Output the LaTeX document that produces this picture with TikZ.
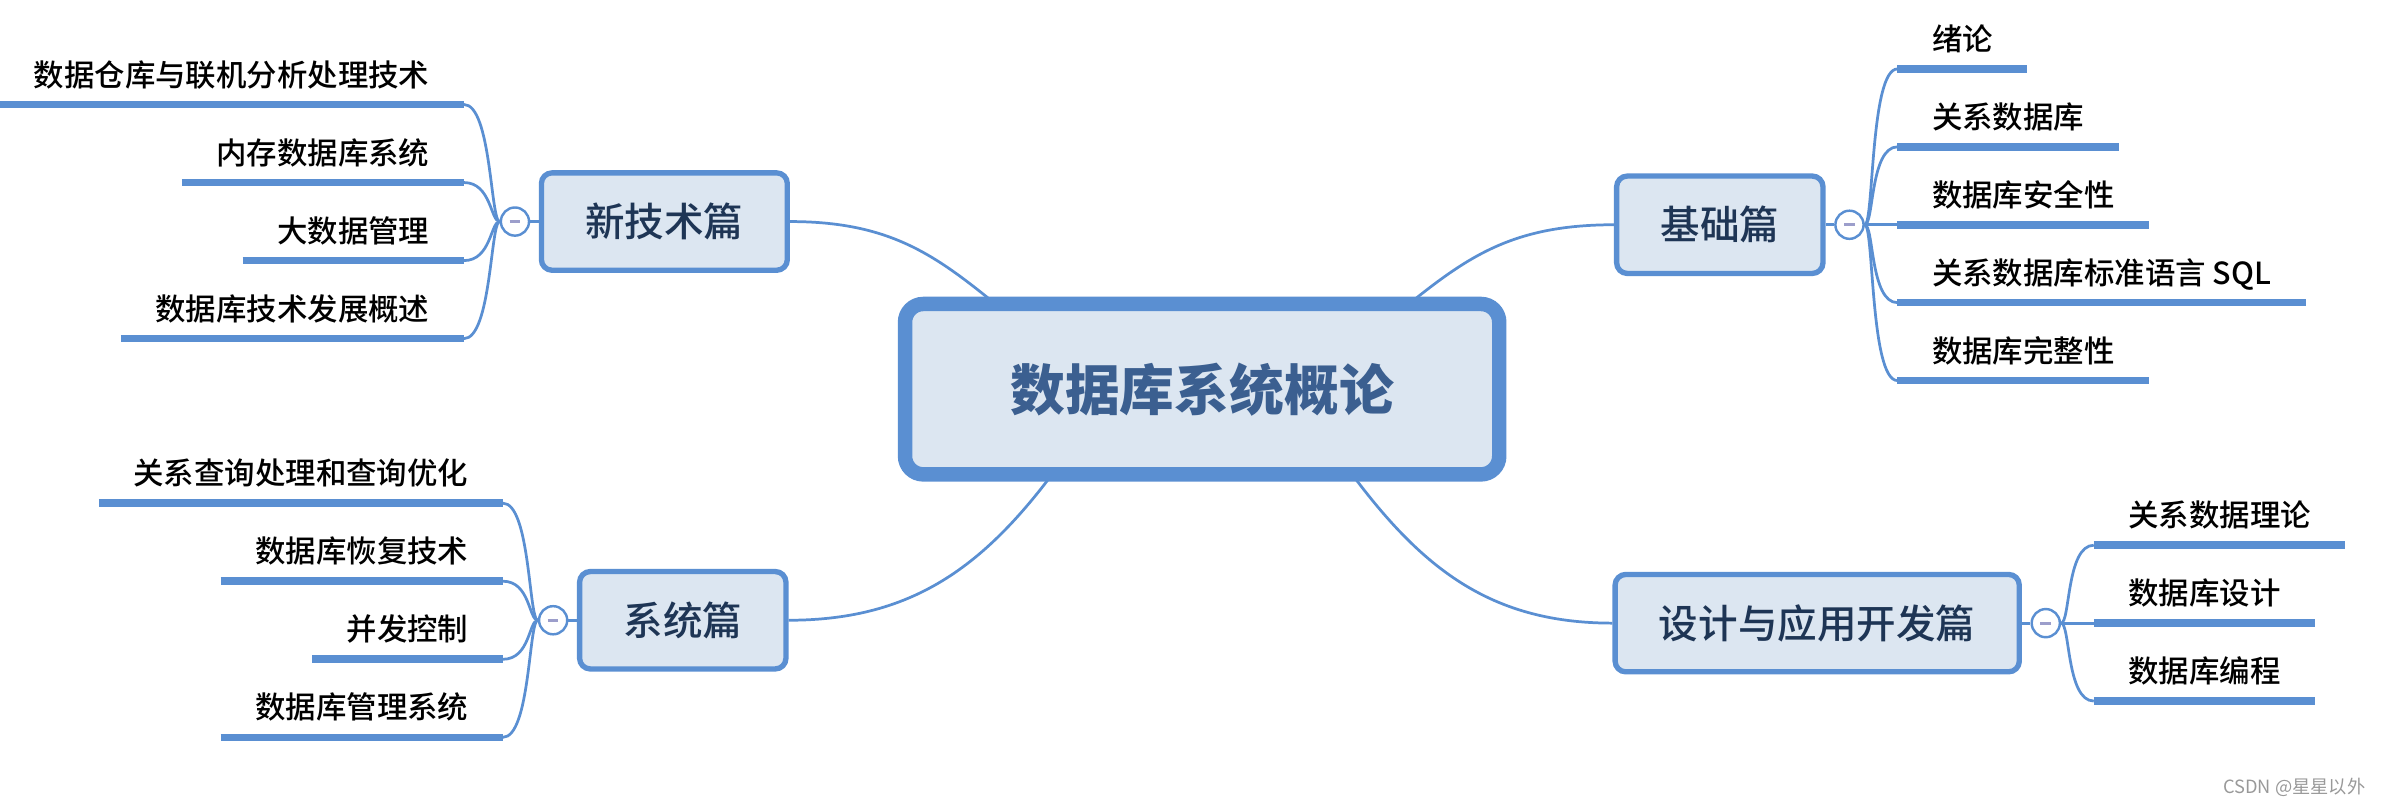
\documentclass[tikz,border=0pt]{standalone}
\usepackage{fontspec}
\setmainfont{Noto Sans CJK SC}
\newfontfamily\mapmedium{Noto Sans CJK SC Medium}
\usetikzlibrary{calc, positioning, backgrounds}

\definecolor{mapblue}{HTML}{5A8FD2}
\definecolor{mapfill}{HTML}{DCE6F1}
\definecolor{titleblue}{HTML}{3B5F90}
\definecolor{branchtext}{HTML}{1E3555}
\definecolor{minusgray}{HTML}{9C9ECB}

\tikzset{
    topic/.style = {draw = mapblue, fill = mapfill, line width = 9.5pt, rounded corners = 12pt, minimum width = 390.5pt, minimum height = 112pt, text = titleblue, font = \fontsize{36}{40}\selectfont\bfseries},
    branch/.style = {draw = mapblue, fill = mapfill, line width = 3.5pt, rounded corners = 7pt, minimum height = 64pt, inner xsep = 28.8pt, text = branchtext, font = \mapmedium\fontsize{26}{30}\selectfont},
    fold/.style = {circle, draw = mapblue, fill = white, line width = 1.6pt, minimum size = 18.5pt, inner sep = 0pt,
        path picture = {\draw[minusgray, line width = 1.8pt] ([xshift = -3.5pt]path picture bounding box.center) -- ([xshift = 3.5pt]path picture bounding box.center);}},
    leaf/.style = {inner xsep = 22.5pt, inner ysep = 0pt, text depth = 11.9pt, font = \mapmedium\fontsize{20}{24}\selectfont},
    bar/.style = {mapblue, line width = 5pt},
    link/.style = {mapblue, line width = 1.8pt}
}

\begin{document}
\begin{tikzpicture}[x = 1pt, y = -1pt]
    \useasboundingbox (0, 0) rectangle (1568, 530);

    \node[topic] (core) at (790, 255.75) {数据库系统概论};

    \node[branch] (xjs) at (436.6, 145.6) {新技术篇};
    \node[branch] (jc) at (1130.2, 147.7) {基础篇};
    \node[branch] (xt) at (448.7, 407.6) {系统篇};
    \node[branch] (sj) at (1194.2, 409.5) {设计与应用开发篇};

    \node[fold, left = 5.6pt of xjs] (xjs_fold) {};
    \node[fold, right = 5.6pt of jc] (jc_fold) {};
    \node[fold, left = 5.6pt of xt] (xt_fold) {};
    \node[fold, right = 5.6pt of sj] (sj_fold) {};

    \draw[link] (xjs_fold) -- (xjs);
    \draw[link] (jc_fold) -- (jc);
    \draw[link] (xt_fold) -- (xt);
    \draw[link] (sj_fold) -- (sj);

    % branches into the central topic
    \begin{scope}[on background layer]
        \coordinate (core_nw) at ($(core.center) + (-122, -44.75)$);
        \coordinate (core_ne) at ($(core.center) + (122, -44.75)$);
        \coordinate (core_sw) at ($(core.center) + (-90, 44.25)$);
        \coordinate (core_se) at ($(core.center) + (90, 44.25)$);

        \draw[link] (xjs.east) .. controls +(72, 0) and +(-48, -39) .. (core_nw);
        \draw[link] (jc.west) .. controls +(-72, 0) and +(48, -39) .. (core_ne);
        \draw[link] (xt.east) .. controls +(84, 0) and +(-50, 70) .. (core_sw);
        \draw[link] (sj.west) .. controls +(-84, 0) and +(50, 70) .. (core_se);
    \end{scope}

    \foreach \txt [count = \i] in {数据仓库与联机分析处理技术, 内存数据库系统, 大数据管理, 数据库技术发展概述} {
        \node[leaf, anchor = south east] (xjs_\i) at ($(xjs_fold.west) + (-23.5, {(\i - 2.5) * 51.3})$) {\txt};
        \draw[bar] (xjs_\i.south west) -- (xjs_\i.south east);
        \draw[link] (xjs_fold.west) .. controls +(-6, 0) and +(18, 0) .. (xjs_\i.south east);
    }

    \foreach \txt [count = \i] in {绪论, 关系数据库, 数据库安全性, 关系数据库标准语言 SQL, 数据库完整性} {
        \node[leaf, anchor = south west] (jc_\i) at ($(jc_fold.east) + (21.5, {(\i - 3) * 51.2})$) {\txt};
        \draw[bar] (jc_\i.south west) -- (jc_\i.south east);
        \draw[link] (jc_fold.east) .. controls +(6, 0) and +(-18, 0) .. (jc_\i.south west);
    }

    \foreach \txt [count = \i] in {关系查询处理和查询优化, 数据库恢复技术, 并发控制, 数据库管理系统} {
        \node[leaf, anchor = south east] (xt_\i) at ($(xt_fold.west) + (-23, {(\i - 2.5) * 51.3})$) {\txt};
        \draw[bar] (xt_\i.south west) -- (xt_\i.south east);
        \draw[link] (xt_fold.west) .. controls +(-6, 0) and +(18, 0) .. (xt_\i.south east);
    }

    \foreach \txt [count = \i] in {关系数据理论, 数据库设计, 数据库编程} {
        \node[leaf, anchor = south west] (sj_\i) at ($(sj_fold.east) + (21.5, {(\i - 2) * 51.2})$) {\txt};
        \draw[bar] (sj_\i.south west) -- (sj_\i.south east);
        \draw[link] (sj_fold.east) .. controls +(6, 0) and +(-18, 0) .. (sj_\i.south west);
    }

    \node[anchor = east, text = black!40, font = \fontsize{12}{14}\selectfont] (mark) at (1558, 517.5) {CSDN @星星以外};
\end{tikzpicture}
\end{document}
